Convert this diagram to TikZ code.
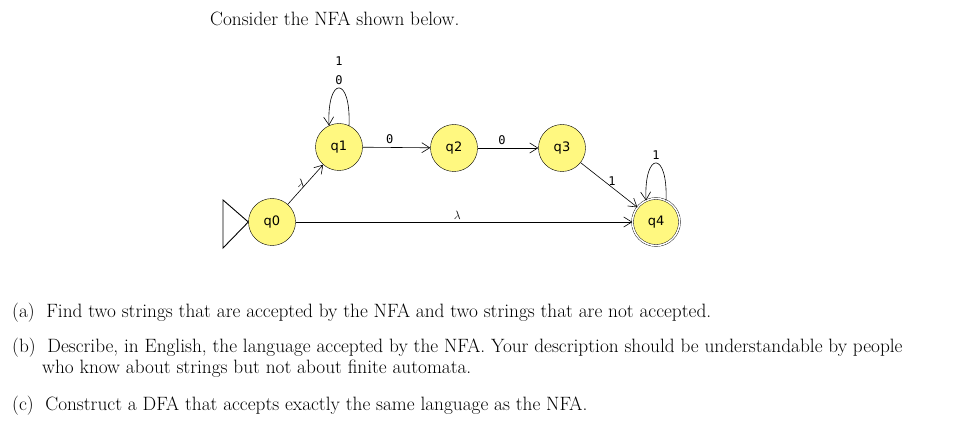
\documentclass[tikz,border=0pt]{standalone}
\usepackage{fontspec}
\newfontfamily\statefont{DejaVu Sans}
\newfontfamily\lblfont{DejaVu Sans Mono}
\usetikzlibrary{arrows.meta}
\begin{document}
\begin{tikzpicture}[x=1pt,y=-1pt,
  st/.style={circle,draw,fill=yellow!50,minimum size=47pt,inner sep=0pt,font=\statefont\fontsize{13}{14}\selectfont},
  edge/.style={draw,-{Straight Barb[length=8pt,width=10pt]},line width=0.6pt},
  lbl/.style={font=\lblfont\fontsize{12}{13}\selectfont,inner sep=1pt},
  txt/.style={anchor=base west,inner sep=0pt,font=\fontsize{19.3}{22}\selectfont}]
\useasboundingbox (0,0) rectangle (957,438);
\node[st] (q0) at (272,222) {q0};
\node[st] (q1) at (339,147) {q1};
\node[st] (q2) at (454,148) {q2};
\node[st] (q3) at (562,148) {q3};
\node[st,double,double distance=1.5pt] (q4) at (656,222) {q4};
\coordinate (t1) at (223,200); \coordinate (t2) at (223,248);
\draw[line width=0.9pt] (t1) -- (q0.west) -- (t2) -- cycle;
\path[edge] (q0) -- node[lbl,pos=0.45,above left=-2pt] {$\lambda$} (q1);
\path[edge] (q1) -- node[lbl,pos=0.4,above=2pt] {0} (q2);
\path[edge] (q2) -- node[lbl,pos=0.4,above=2pt] {0} (q3);
\path[edge] (q3) -- node[lbl,pos=0.5,above right=-2pt] {1} (q4);
\path[edge] (q0) -- node[lbl,pos=0.48,above=1pt] {$\lambda$} (q4);
\path[edge] (q1.65) .. controls +(2,-50) and +(-2,-50) .. (q1.115);
\node[lbl] (l1a) at (339,80) {0};
\node[lbl] (l1b) at (339,61) {1};
\path[edge] (q4.65) .. controls +(2,-50) and +(-2,-50) .. (q4.115);
\node[lbl] (l4) at (656,155) {1};
\node[txt] (h) at (210,26) {Consider the NFA shown below.};
\node[txt] (a) at (12,317) {(a)\ \ Find two strings that are accepted by the NFA and two strings that are not accepted.};
\node[txt] (b) at (12,352) {(b)\ \ Describe, in English, the language accepted by the NFA. Your description should be understandable by people};
\node[txt] (b2) at (42,373) {who know about strings but not about finite automata.};
\node[txt] (c) at (12,410) {(c)\ \ Construct a DFA that accepts exactly the same language as the NFA.};
\end{tikzpicture}
\end{document}
